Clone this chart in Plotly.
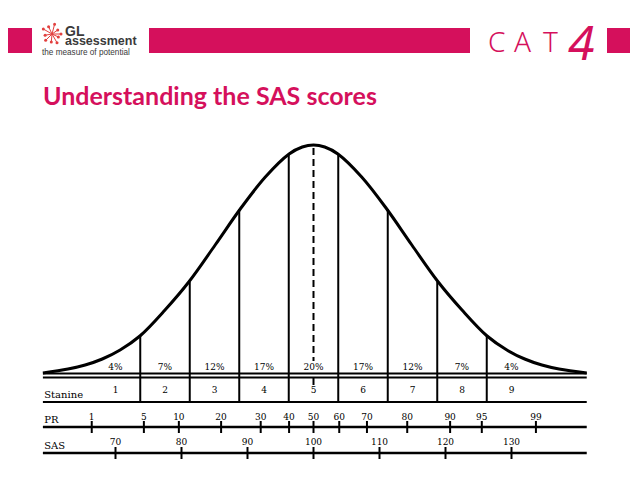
import math
import plotly.graph_objects as go

# normal curve (SAS score, height above the base line)
curve_sas = [59.0, 62.8, 65.4, 68.0, 70.7, 73.7, 77.5, 81.1, 85.1, 88.9, 92.7, 96.3, 98.3, 100,
             101.7, 103.7, 107.3, 111.1, 114.9, 118.9, 122.5, 126.3, 129.3, 132.0, 134.6, 137.2, 141.4]
curve_height = [2, 6, 10, 16, 25, 39, 65, 93, 130, 166, 198, 221, 228, 230,
                228, 221, 198, 166, 130, 93, 65, 39, 25, 16, 10, 6, 2]

# stanine bands
stanine = ["1", "2", "3", "4", "5", "6", "7", "8", "9"]
stanine_pct = ["4%", "7%", "12%", "17%", "20%", "17%", "12%", "7%", "4%"]
stanine_centre = [70, 77.5, 85, 92.5, 100, 107.5, 115, 122.5, 130]
boundary_sas = [73.75, 81.25, 88.75, 96.25, 103.75, 111.25, 118.75, 126.25]
boundary_top = [39, 93, 166, 221, 221, 166, 93, 39]

# percentile ranks and where they sit on the SAS scale
pr_labels = ["1", "5", "10", "20", "30", "40", "50", "60", "70", "80", "90", "95", "99"]
pr_sas = [66.4, 74.3, 79.6, 86.0, 92.0, 96.3, 100, 103.9, 108.1, 114.2, 120.7, 125.5, 133.7]

sas_ticks = [70, 80, 90, 100, 110, 120, 130]

PINK = "#D5105C"
W, H = 638, 479
OFF = 8                            # page body margin
LEFT, RIGHT = 59.0, 141.4          # ends of the table rules
STAN_BOTTOM = -27
PR_LINE, SAS_LINE = -52, -78
SERIF = "DejaVu Serif"

fig = go.Figure()

# curve
fig.add_trace(go.Scatter(x=curve_sas, y=curve_height, mode="lines",
                         line=dict(color="black", width=3, shape="spline", smoothing=1.0),
                         hoverinfo="skip"))

# stanine boundaries
vx, vy = [], []
for b, t in zip(boundary_sas, boundary_top):
    vx += [b, b, None]
    vy += [t, STAN_BOTTOM, None]
fig.add_trace(go.Scatter(x=vx, y=vy, mode="lines", line=dict(color="black", width=2),
                         hoverinfo="skip"))

# mean line
fig.add_trace(go.Scatter(x=[100, 100], y=[227, 14], mode="lines",
                         line=dict(color="black", width=2, dash="7px,4px"), hoverinfo="skip"))
fig.add_trace(go.Scatter(x=[100, 100], y=[-3, -10], mode="lines",
                         line=dict(color="black", width=2), hoverinfo="skip"))

# ticks on the PR and SAS scales
tx, ty = [], []
for p in pr_sas:
    tx += [p, p, None]
    ty += [PR_LINE + 6, PR_LINE - 6, None]
for s in sas_ticks:
    tx += [s, s, None]
    ty += [SAS_LINE + 6, SAS_LINE - 6, None]
fig.add_trace(go.Scatter(x=tx, y=ty, mode="lines", line=dict(color="black", width=2),
                         hoverinfo="skip"))

# text rows
lab = dict(family=SERIF, size=9, color="black")
fig.add_trace(go.Scatter(x=stanine_centre, y=[7] * 9, mode="text", text=stanine_pct,
                         textfont=lab, hoverinfo="skip"))
fig.add_trace(go.Scatter(x=stanine_centre, y=[-16] * 9, mode="text", text=stanine,
                         textfont=lab, hoverinfo="skip"))
fig.add_trace(go.Scatter(x=pr_sas, y=[PR_LINE + 9] * len(pr_sas), mode="text", text=pr_labels,
                         textfont=lab, hoverinfo="skip"))
fig.add_trace(go.Scatter(x=sas_ticks, y=[SAS_LINE + 10] * len(sas_ticks), mode="text",
                         text=[str(s) for s in sas_ticks], textfont=lab, hoverinfo="skip"))
fig.add_trace(go.Scatter(x=[LEFT + 0.2] * 3, y=[-20, -45, -71], mode="text",
                         text=["Stanine", "PR", "SAS"], textposition="middle right",
                         textfont=dict(family=SERIF, size=10, color="black"), hoverinfo="skip"))

# horizontal rules
for yy, w in [(1.5, 2), (-2.5, 2), (STAN_BOTTOM, 2), (PR_LINE, 2.5), (SAS_LINE, 2.5)]:
    fig.add_shape(type="line", xref="x", yref="y", x0=LEFT, x1=RIGHT, y0=yy, y1=yy,
                  line=dict(color="black", width=w))


# header band, positions in page pixels
def px(x, y):
    return (x - OFF) / W, 1 - (y - OFF) / H


for x0, x1 in [(0, 32), (149, 470), (607, 660)]:
    a, b = px(x0, 28)
    c, d = px(x1, 53)
    fig.add_shape(type="rect", xref="paper", yref="paper", x0=a, x1=c, y0=d, y1=b,
                  fillcolor=PINK, line_width=0, layer="below")

# GL starburst
cx, cy = 52, 34
rays = [(0, 9), (35, 7), (75, 10), (115, 8), (150, 10), (190, 7), (225, 9), (265, 8), (300, 10), (335, 7)]
for ang, r in rays:
    ex = cx + r * math.cos(math.radians(ang))
    ey = cy - r * math.sin(math.radians(ang))
    a, b = px(cx, cy)
    c, d = px(ex, ey)
    fig.add_shape(type="line", xref="paper", yref="paper", x0=a, y0=b, x1=c, y1=d,
                  line=dict(color="#E2403F", width=1))
    e, f = px(ex - 1.5, ey + 1.5)
    g, h = px(ex + 1.5, ey - 1.5)
    fig.add_shape(type="circle", xref="paper", yref="paper", x0=e, x1=g, y0=f, y1=h,
                  fillcolor="#E2403F", line_width=0)


def note(text, x, y, size, color, family="Liberation Sans", weight="normal", style="normal",
         xanchor="left", align="left"):
    a, b = px(x, y)
    fig.add_annotation(text=text, x=a, y=b, xref="paper", yref="paper", showarrow=False,
                       xanchor=xanchor, yanchor="middle", borderpad=0, align=align,
                       font=dict(family=family, size=size, color=color, weight=weight, style=style))


note("<span style='font-size:14px'>GL</span><br>"
     "<span style='font-size:12.5px'>assessment</span>",
     64, 35.5, 7.2, "#3a3a3a", weight="bold")
note("the measure of potential", 41, 52.5, 8.2, "#3a3a3a")

for ch, x in [("C", 496), ("A", 523), ("T", 550)]:
    note(ch, x, 41, 28, PINK, family="Noto Sans", weight=300, xanchor="center")
note("4", 581, 41, 48, PINK, family="Noto Sans", style="italic", xanchor="center")

note("Understanding the SAS scores", 42, 95, 25, PINK, family="Lato", weight="bold")

x0 = 100 - (313.5 - OFF) / 6.6
top = 375 - OFF
fig.update_layout(
    width=W, height=H, margin=dict(l=0, r=0, t=0, b=0),
    paper_bgcolor="white", plot_bgcolor="white", showlegend=False,
    xaxis=dict(range=[x0, x0 + W / 6.6], visible=False, fixedrange=True),
    yaxis=dict(range=[top - H, top], visible=False, fixedrange=True),
)

fig.write_html("out.html")
